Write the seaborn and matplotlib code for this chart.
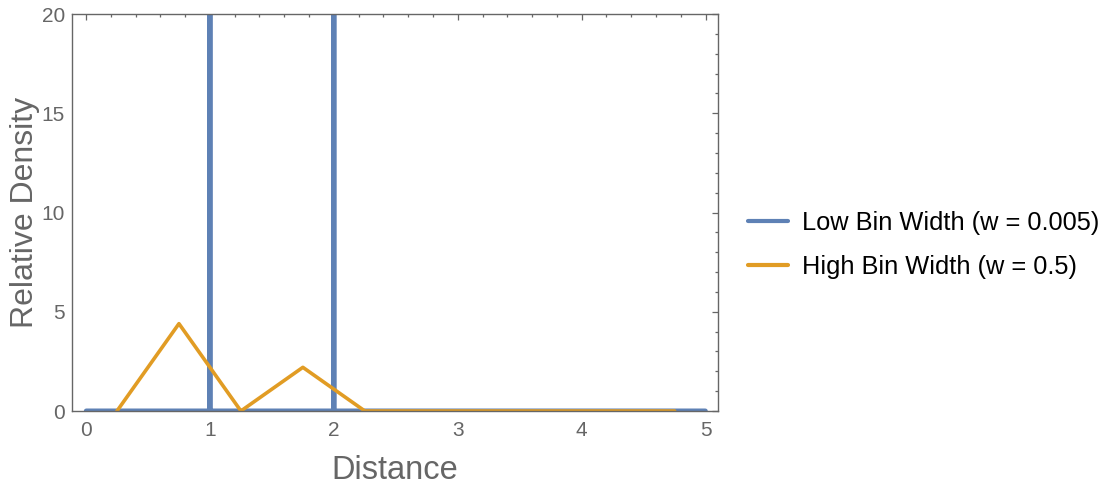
import matplotlib
matplotlib.use("Agg")
import matplotlib.pyplot as plt
import seaborn as sns
import pandas as pd
from matplotlib.ticker import MultipleLocator

# Low bin width (w = 0.005): flat at zero except two tall spikes at 1 and 2
low_x = [0.0025, 0.9975, 1.0, 1.0025, 1.9975, 2.0, 2.0025, 4.9975]
low_y = [0, 0, 440, 0, 0, 220, 0, 0]

# High bin width (w = 0.5): bin centres and densities
high_x = [0.25, 0.75, 1.25, 1.75, 2.25, 2.75, 3.25, 3.75, 4.25, 4.75]
high_y = [0, 4.4, 0, 2.2, 0, 0, 0, 0, 0, 0]

labels = ["Low Bin Width (w = 0.005)", "High Bin Width (w = 0.5)"]
colors = ["#5E81B5", "#E19C24"]

sns.set_style("white")
plt.rcParams["font.family"] = ["Liberation Sans", "DejaVu Sans"]

grey = "#666666"

fig = plt.figure(figsize=(11.12, 4.9), dpi=100)
ax = fig.add_axes([72 / 1112, 79 / 490, 646 / 1112, 397 / 490])

low = pd.DataFrame({"x": low_x, "y": low_y})
high = pd.DataFrame({"x": high_x, "y": high_y})
sns.lineplot(data=low, x="x", y="y", ax=ax, color=colors[0], lw=3.6,
             label=labels[0], sort=False, estimator=None, zorder=1)
sns.lineplot(data=high, x="x", y="y", ax=ax, color=colors[1], lw=2.6,
             label=labels[1], sort=False, estimator=None, zorder=1.5)

ax.set_xlim(-0.113, 5.1)
ax.set_ylim(0, 20)
ax.xaxis.set_major_locator(MultipleLocator(1))
ax.xaxis.set_minor_locator(MultipleLocator(0.2))
ax.yaxis.set_major_locator(MultipleLocator(5))
ax.yaxis.set_minor_locator(MultipleLocator(1))
ax.tick_params(which="both", direction="in", top=True, right=True,
               color=grey, labelcolor=grey, labelsize=15, width=0.9)
ax.tick_params(which="major", length=4.5, pad=5)
ax.tick_params(which="minor", length=2.5)
ax.tick_params(axis="x", which="major", pad=7)
for s in ax.spines.values():
    s.set_color(grey)
    s.set_linewidth(1.0)
    s.set_zorder(3)

ax.set_xlabel("Distance", fontsize=23.5, color=grey, labelpad=11)
ax.set_ylabel("Relative Density", fontsize=23, color=grey, labelpad=1.5)

leg = ax.legend(loc="center left", bbox_to_anchor=(1.046, 0.418),
                frameon=False, fontsize=18.3, handlelength=1.57,
                handletextpad=0.55, labelspacing=0.8, borderpad=0,
                borderaxespad=0)
for line in leg.get_lines():
    line.set_linewidth(3)
for t in leg.get_texts():
    t.set_color("black")

fig.savefig("out.png", dpi=100)
